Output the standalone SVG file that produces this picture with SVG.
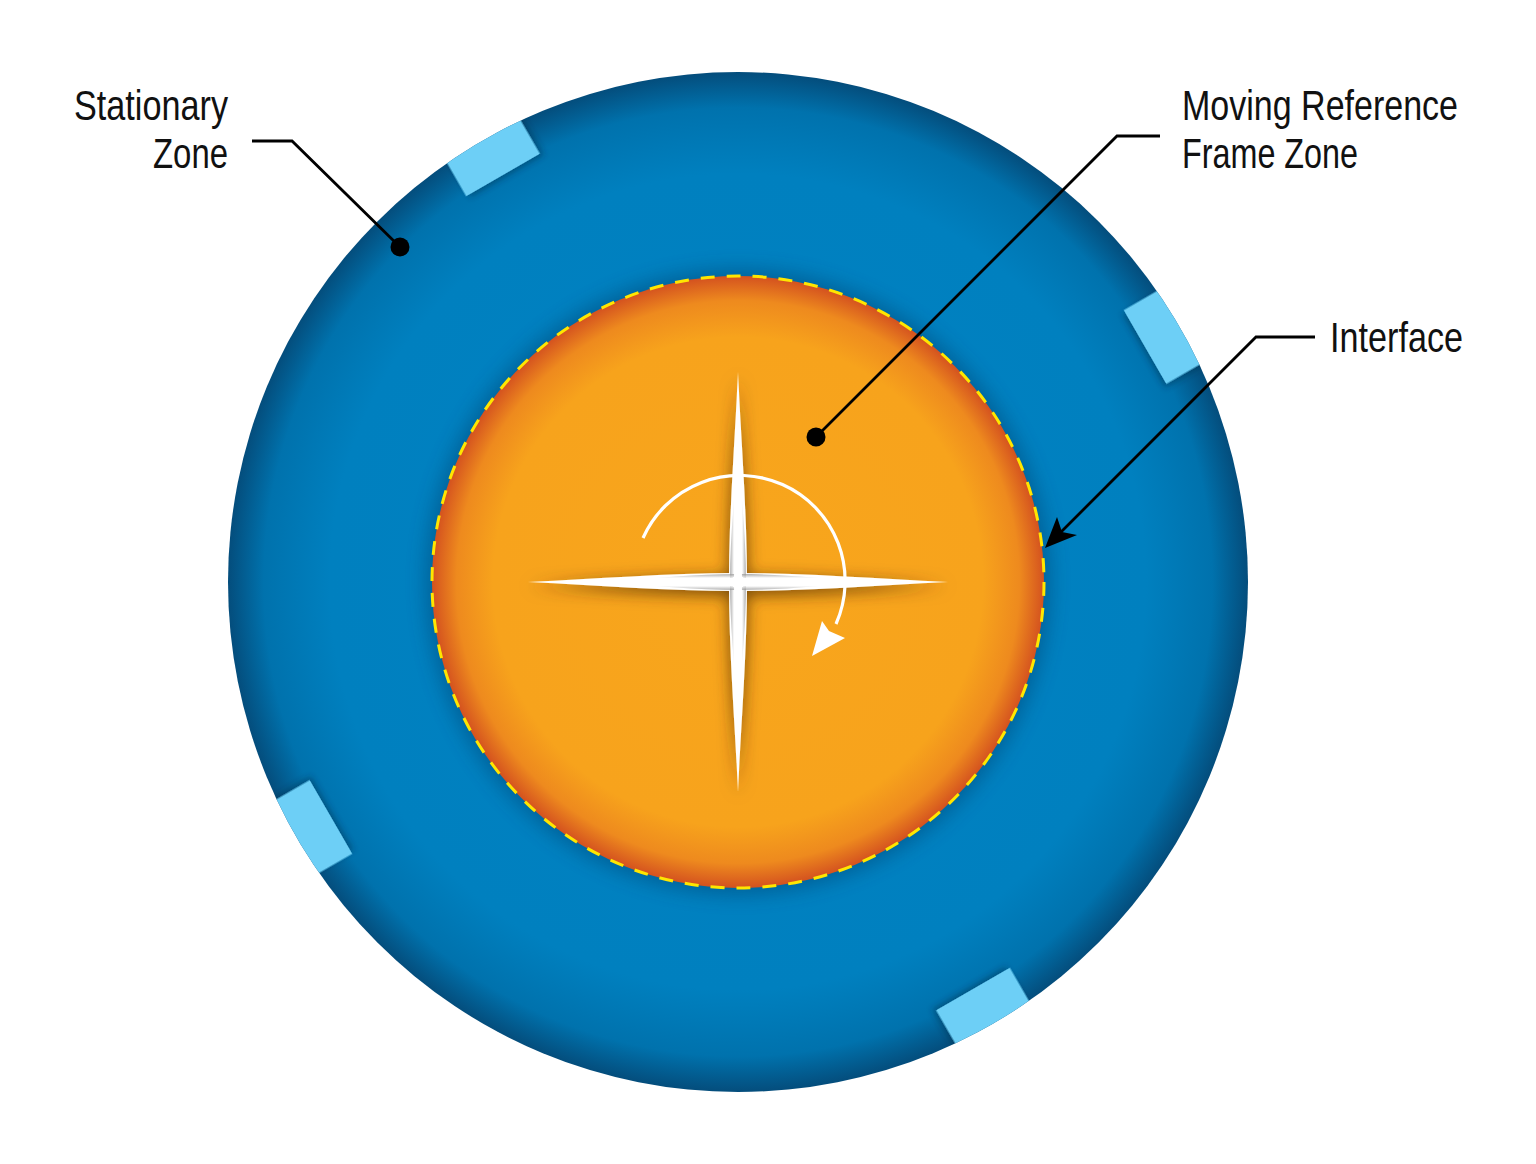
<svg xmlns="http://www.w3.org/2000/svg" width="1536" height="1164" viewBox="0 0 1536 1164">
<style>
.lbl{font-family:"Liberation Sans",Arial,sans-serif;font-size:42px;fill:#111}
.lead{fill:none;stroke:#000;stroke-width:2.8}
.baffle{fill:#6DCFF6}
</style>
<defs>
<radialGradient id="blueG" cx="738" cy="582" r="510" gradientUnits="userSpaceOnUse">
<stop offset="0" stop-color="#0083C4"/>
<stop offset="0.8" stop-color="#0080BF"/>
<stop offset="0.93" stop-color="#0072AD"/>
<stop offset="1" stop-color="#044D7C"/>
</radialGradient>
<radialGradient id="orangeG" cx="738" cy="582" r="306" gradientUnits="userSpaceOnUse">
<stop offset="0" stop-color="#F8A61C"/>
<stop offset="0.8" stop-color="#F7A31C"/>
<stop offset="0.92" stop-color="#EE8A1E"/>
<stop offset="1" stop-color="#D4521F"/>
</radialGradient>
<linearGradient id="vBlade" x1="0" y1="0" x2="1" y2="0">
<stop offset="0" stop-color="#8a8a8a"/>
<stop offset="0.25" stop-color="#ffffff"/>
<stop offset="0.75" stop-color="#ffffff"/>
<stop offset="1" stop-color="#8a8a8a"/>
</linearGradient>
<linearGradient id="hBlade" x1="0" y1="0" x2="0" y2="1">
<stop offset="0" stop-color="#8a8a8a"/>
<stop offset="0.25" stop-color="#ffffff"/>
<stop offset="0.75" stop-color="#ffffff"/>
<stop offset="1" stop-color="#8a8a8a"/>
</linearGradient>
<clipPath id="outerClip"><circle cx="738" cy="582" r="510"/></clipPath>
<filter id="shadow" x="-20%" y="-20%" width="140%" height="140%">
<feDropShadow dx="-3" dy="3" stdDeviation="3" flood-color="#002a4a" flood-opacity="0.45"/>
</filter>
<filter id="blur12" x="-20%" y="-20%" width="140%" height="140%"><feGaussianBlur stdDeviation="10"/></filter>
<filter id="crossShadow" x="-20%" y="-20%" width="140%" height="140%">
<feDropShadow dx="0" dy="4" stdDeviation="8" flood-color="#4a2800" flood-opacity="0.75"/>
</filter>
</defs>

<g id="stationary-zone">
<circle cx="738" cy="582" r="510" fill="url(#blueG)"/>
<circle cx="738" cy="582" r="312" fill="#003a66" opacity="0.45" filter="url(#blur12)"/>
</g>

<g id="baffles" clip-path="url(#outerClip)">
<g transform="translate(738 582) rotate(-120)"><rect class="baffle" x="470" y="-42.5" width="50" height="85" filter="url(#shadow)"/></g>
<g transform="translate(738 582) rotate(-30)"><rect class="baffle" x="470" y="-42.5" width="50" height="85" filter="url(#shadow)"/></g>
<g transform="translate(738 582) rotate(60)"><rect class="baffle" x="470" y="-42.5" width="50" height="85" filter="url(#shadow)"/></g>
<g transform="translate(738 582) rotate(150)"><rect class="baffle" x="470" y="-42.5" width="50" height="85" filter="url(#shadow)"/></g>
</g>

<g id="mrf-zone">
<circle cx="738" cy="582" r="306" fill="url(#orangeG)"/>
</g>

<g id="interface">
<circle cx="738" cy="582" r="306" fill="none" stroke="#FFE600" stroke-width="3" stroke-dasharray="14 12"/>
</g>

<g id="impeller">
<g filter="url(#crossShadow)">
<path d="M738,372 C741,440 747,510 747,582 C747,654 741,724 738,792 C735,724 729,654 729,582 C729,510 735,440 738,372 Z" fill="#fff"/>
<path d="M528,582 C596,579 666,573 738,573 C810,573 880,579 948,582 C880,585 810,591 738,591 C666,591 596,585 528,582 Z" fill="#fff"/>
</g>
<path d="M738,455 C742,500 746,540 746,582 C746,624 742,664 738,709 C734,664 730,624 730,582 C730,540 734,500 738,455 Z" fill="url(#vBlade)" opacity="0.7"/>
<path d="M611,582 C656,578 696,574 738,574 C780,574 820,578 865,582 C820,586 780,590 738,590 C696,590 656,586 611,582 Z" fill="url(#hBlade)" opacity="0.7"/>
<path d="M738,470 C740,510 742,550 742,582 C742,614 740,654 738,694 C736,654 734,614 734,582 C734,550 736,510 738,470 Z" fill="#fff"/>
<path d="M626,582 C666,580 706,578 738,578 C770,578 810,580 850,582 C810,584 770,586 738,586 C706,586 666,584 626,582 Z" fill="#fff"/>
<rect x="733" y="577" width="10" height="10" fill="#fff"/>
</g>

<g id="rotation-arrow">
<path d="M643,538 A105 105 0 0 1 836,624" fill="none" stroke="#fff" stroke-width="3.2"/>
<path d="M812,656 L822,621 L829,631 L845,638 Z" fill="#fff"/>
</g>

<g id="connectors">
<polyline class="lead" points="252,141 292,141 400,247"/>
<circle cx="400" cy="247" r="9.5" fill="#000"/>
<polyline class="lead" points="1160,136 1117,136 816,437"/>
<circle cx="816" cy="437" r="9.5" fill="#000"/>
<polyline class="lead" points="1315,337 1256,337 1058,535"/>
<path d="M1045,548 L1057,517 L1062,532 L1077,535 Z" fill="#000"/>
</g>

<g id="labels">
<text class="lbl" x="74" y="120" textLength="154" lengthAdjust="spacingAndGlyphs">Stationary</text>
<text class="lbl" x="153" y="168" textLength="75" lengthAdjust="spacingAndGlyphs">Zone</text>
<text class="lbl" x="1182" y="120" textLength="276" lengthAdjust="spacingAndGlyphs">Moving Reference</text>
<text class="lbl" x="1182" y="168" textLength="176" lengthAdjust="spacingAndGlyphs">Frame Zone</text>
<text class="lbl" x="1330" y="352" textLength="133" lengthAdjust="spacingAndGlyphs">Interface</text>
</g>
</svg>
